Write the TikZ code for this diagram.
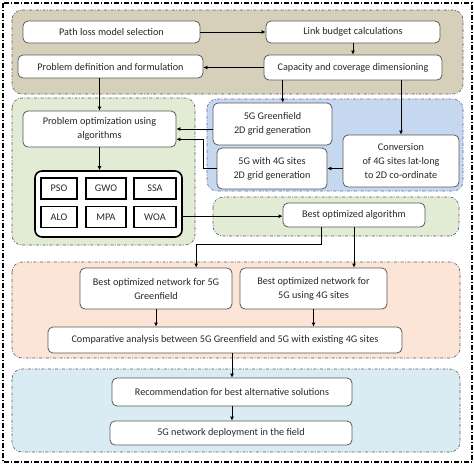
\documentclass[tikz,border=0pt]{standalone}
\usepackage{fontspec}
\setmainfont{Carlito}
\usetikzlibrary{arrows.meta,calc}
\definecolor{beigeg}{RGB}{214,208,187}
\definecolor{greeng}{RGB}{226,235,212}
\definecolor{blueg}{RGB}{197,216,240}
\definecolor{orangeg}{RGB}{252,229,214}
\definecolor{lblueg}{RGB}{218,236,243}
\definecolor{edgegray}{RGB}{90,90,90}
\definecolor{txt}{RGB}{40,40,40}
\tikzset{
  grp/.style={draw=edgegray, line width=0.6pt, dash pattern=on 3pt off 1.5pt on 0.8pt off 1.5pt, rounded corners=10pt},
  box/.style={draw=edgegray, line width=0.8pt, fill=white, rounded corners=5pt, align=center, text=txt, font=\fontsize{10.2}{14}\selectfont, inner sep=1pt},
  algbox/.style={draw=black, line width=1.6pt, fill=white, align=center, text=txt, font=\fontsize{10.2}{12}\selectfont, minimum width=38pt, minimum height=21pt, inner sep=0pt},
  arr/.style={-{Latex[length=4pt,width=4pt]}, line width=0.8pt},
}
\begin{document}
\begin{tikzpicture}[x=1pt,y=-1pt]
\useasboundingbox (0,0) rectangle (474,466);
% outer
\draw[line width=1.1pt, dash pattern=on 5pt off 2pt on 1pt off 2pt] (3,3) rectangle (472,462);
% groups
\draw[grp, fill=beigeg] (12,10) rectangle (463,94);
\draw[grp, fill=greeng] (12,98) rectangle (195,245);
\draw[grp, draw=black!60!blue!60, fill=blueg] (207,99) rectangle (463,191);
\draw[grp, fill=greeng] (213,197) rectangle (459,236);
\draw[grp, fill=orangeg] (12,262) rectangle (460,358);
\draw[grp, fill=lblueg] (12,369) rectangle (460,452);
% nodes
\node[box, minimum width=177pt, minimum height=22pt] (pl) at (111.5,32) {Path loss model selection};
\node[box, minimum width=174pt, minimum height=22pt] (lb) at (353,32) {Link budget calculations};
\node[box, minimum width=185pt, minimum height=23pt] (pd) at (110.5,66.5) {Problem definition and formulation};
\node[box, minimum width=178pt, minimum height=25pt] (cc) at (353,67.5) {Capacity and coverage dimensioning};
\node[box, minimum width=153pt, minimum height=36pt] (po) at (99.5,129) {Problem optimization using\\algorithms};
\node[draw=black, line width=1.6pt, fill=white, rounded corners=7pt, minimum width=147pt, minimum height=66pt] (alg) at (108.5,204) {};
\node[algbox, minimum width=36pt] (pso) at (59,188.5) {PSO};
\node[algbox, minimum width=40pt] (gwo) at (106,188.5) {GWO};
\node[algbox, minimum width=42pt] (ssa) at (155,188.5) {SSA};
\node[algbox, minimum width=36pt] (alo) at (59,217) {ALO};
\node[algbox, minimum width=40pt] (mpa) at (106,217) {MPA};
\node[algbox, minimum width=42pt] (woa) at (155,217) {WOA};
\node[box, minimum width=119pt, minimum height=42pt] (gf) at (272.5,124) {5G Greenfield\\2D grid generation};
\node[box, minimum width=110pt, minimum height=41pt] (g4) at (272,168.5) {5G with 4G sites\\2D grid generation};
\node[box, minimum width=116pt, minimum height=52pt] (cv) at (401,161) {Conversion\\of 4G sites lat-long\\to 2D co-ordinate};
\node[box, minimum width=142pt, minimum height=24pt] (boa) at (354,215) {Best optimized algorithm};
\node[box, minimum width=152pt, minimum height=41pt] (bgf) at (156,288.5) {Best optimized network for 5G\\Greenfield};
\node[box, minimum width=147pt, minimum height=41pt] (b4g) at (313.5,288.5) {Best optimized network for\\5G using 4G sites};
\node[box, minimum width=354pt, minimum height=26pt] (cmp) at (225,340) {Comparative analysis between 5G Greenfield and 5G with existing 4G sites};
\node[box, minimum width=240pt, minimum height=28pt] (rec) at (232,392) {Recommendation for best alternative solutions};
\node[box, minimum width=242pt, minimum height=24pt] (dep) at (231,433) {5G network deployment in the field};
% connectors
\draw[arr] (pl.east) -- (pl.east -| lb.west);
\draw[arr] (lb.south) -- (cc.north);
\draw[arr] (cc.west) -- (cc.west -| pd.east);
\draw[arr] (po.north |- pd.south) -- (po.north);
\draw[arr] (po.south) -- (po.south |- alg.north);
\coordinate (ccA) at ($(cc.south west)!0.107!(cc.south east)$);
\draw[arr] (ccA) -- (ccA |- gf.north);
\draw[arr] (cv.north |- cc.south) -- (cv.north);
\draw[arr] (g4.east -| cv.west) -- (g4.east);
\draw[arr] (gf.west |- po.east) -- (po.east);
\coordinate (poB) at ($(po.north east)!0.78!(po.south east)$);
\draw[arr] (g4.west) -- ++(-13,0) |- (poB);
\coordinate (algR) at ($(alg.north east)!0.68!(alg.south east)$);
\draw[arr] (algR) -- (algR -| boa.west);
\coordinate (boaA) at ($(boa.south west)!0.27!(boa.south east)$);
\coordinate (bgfT) at ($(bgf.north west)!0.763!(bgf.north east)$);
\draw[arr] (boaA) -- ++(0,17) -| (bgfT);
\draw[arr] (boa.south) -- (boa.south |- b4g.north);
\draw[arr] (bgf.south) -- (bgf.south |- cmp.north);
\draw[arr] (b4g.south) -- (b4g.south |- cmp.north);
\draw[arr] (rec.north |- cmp.south) -- (rec.north);
\draw[arr] (rec.south) -- (rec.south |- dep.north);
\end{tikzpicture}
\end{document}
